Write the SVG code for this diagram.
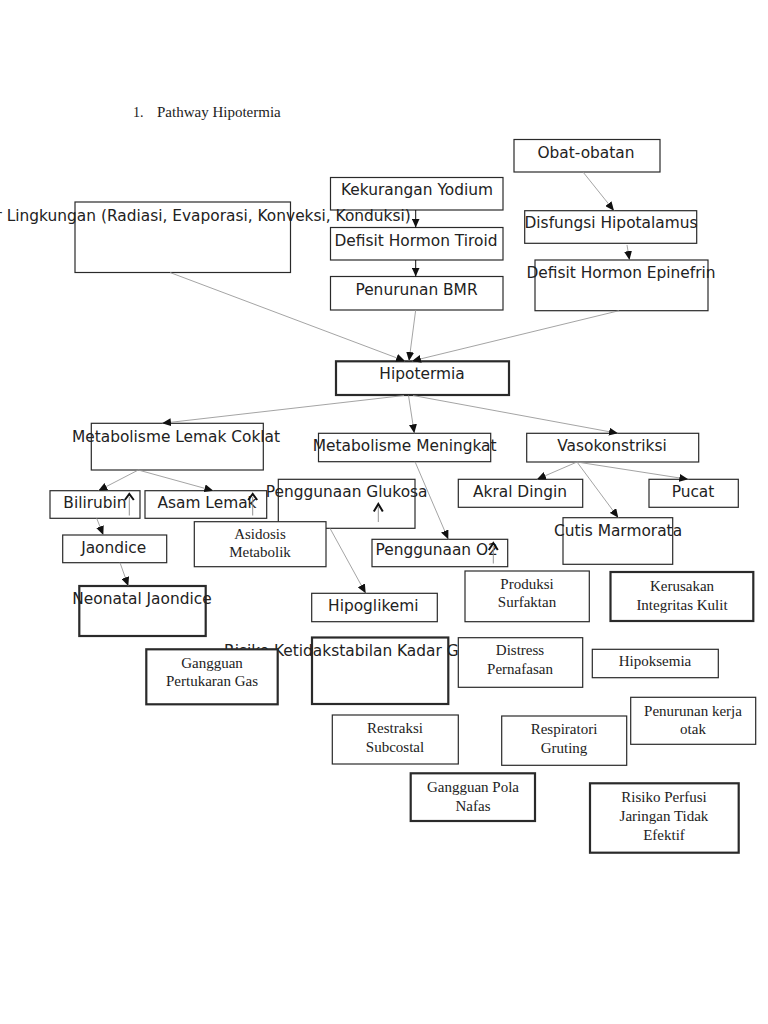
<svg xmlns="http://www.w3.org/2000/svg" width="768" height="1024" viewBox="0 0 768 1024">
<style>
.box{fill:#fff;stroke:#2a2a2a;stroke-width:1.2}
.thick{stroke-width:2.2}
.open{fill:none}
.sans{font-family:"DejaVu Sans",sans-serif;font-size:15.4px;fill:#222;text-anchor:middle}
.serif{font-family:"Liberation Serif","Times New Roman",serif;font-size:15px;fill:#222;text-anchor:middle}
.con{stroke:#9a9a9a;stroke-width:0.9;fill:none}
.conk{stroke:#111;stroke-width:1;fill:none}
.chev{stroke:#111;stroke-width:2;fill:none;stroke-linejoin:miter}
.stem{stroke:#888;stroke-width:0.9}
</style>
<defs>
<marker id="ah" markerUnits="userSpaceOnUse" markerWidth="9" markerHeight="8" refX="9" refY="4" orient="auto">
<path d="M0,0 L9,4 L0,8 z" fill="#111"/>
</marker>
</defs>
<rect width="768" height="1024" fill="#fff"/>

<g id="title">
<text x="133" y="117" style="font-family:'Liberation Serif',serif;font-size:14px;fill:#222">1.</text>
<text x="157" y="117" style="font-family:'Liberation Serif',serif;font-size:15px;fill:#222">Pathway Hipotermia</text>
</g>

<g id="obat"><rect class="box" x="514" y="139.5" width="146" height="32.5"/><text class="sans" x="586" y="157.5">Obat-obatan</text></g>
<g id="kekurangan"><rect class="box" x="330.5" y="177.5" width="172.5" height="32.5"/><text class="sans" x="417" y="195">Kekurangan Yodium</text></g>
<g id="lingkungan"><rect class="box" x="75" y="202" width="215.5" height="70.5"/><text x="-4.5" y="220.5" style="font-family:'DejaVu Sans',sans-serif;font-size:15.4px;fill:#222">r Lingkungan (Radiasi, Evaporasi, Konveksi, Konduksi)</text></g>
<g id="tiroid"><rect class="box" x="330.5" y="227.5" width="172.5" height="32.5"/><text class="sans" x="416" y="245.5">Defisit Hormon Tiroid</text></g>
<g id="bmr"><rect class="box" x="330.5" y="276.5" width="172.5" height="33.5"/><text class="sans" x="416.5" y="294.5">Penurunan BMR</text></g>
<g id="disfungsi"><rect class="box" x="524.7" y="210.7" width="172" height="32.6"/><text class="sans" x="611" y="228">Disfungsi Hipotalamus</text></g>
<g id="epinefrin"><rect class="box open" x="535" y="260" width="173" height="50.7"/><text class="sans" x="621" y="278">Defisit Hormon Epinefrin</text></g>
<g id="hipotermia"><rect class="box thick" x="336" y="361.3" width="173" height="33.7"/><text class="sans" x="422" y="378.5">Hipotermia</text></g>

<g id="lemakcoklat"><rect class="box open" x="91.3" y="423.3" width="172" height="46.7"/><text class="sans" x="176" y="441.8">Metabolisme Lemak Coklat</text></g>
<g id="meningkat"><rect class="box open" x="318.5" y="433.3" width="172.2" height="28.4"/><text class="sans" x="404.7" y="451.3">Metabolisme Meningkat</text></g>
<g id="vaso"><rect class="box" x="526.7" y="433.3" width="172" height="28.7"/><text class="sans" x="612" y="451.3">Vasokonstriksi</text></g>

<g id="glukosa"><rect class="box open" x="278.3" y="479.3" width="136.7" height="49"/><text class="sans" x="346.7" y="497">Penggunaan Glukosa</text></g>
<g id="asidosis"><rect class="box" x="194.3" y="521.7" width="131.7" height="45"/><text class="serif" x="260" y="538.5">Asidosis</text><text class="serif" x="260" y="557">Metabolik</text></g>
<g id="akral"><rect class="box" x="458.3" y="479.3" width="124.4" height="28"/><text class="sans" x="520" y="497">Akral Dingin</text></g>
<g id="pucat"><rect class="box" x="649" y="479.3" width="89.3" height="28"/><text class="sans" x="693" y="497">Pucat</text></g>
<g id="cutis"><rect class="box open" x="563" y="517.7" width="109.7" height="46.6"/><text class="sans" x="618" y="535.8">Cutis Marmorata</text></g>

<g id="bilirubin"><rect class="box" x="50" y="490.7" width="90" height="27.6"/><text class="sans" x="95" y="507.5">Bilirubin</text></g>
<g id="asamlemak"><rect class="box" x="145" y="490.7" width="121.7" height="27.6"/><text class="sans" x="207" y="507.5">Asam Lemak</text></g>
<g id="jaondice"><rect class="box" x="62.7" y="535" width="104" height="27.7"/><text class="sans" x="113.7" y="553">Jaondice</text></g>
<g id="o2"><rect class="box" x="372" y="539.3" width="135.7" height="27.4"/><text class="sans" x="436.7" y="555.3">Penggunaan O2</text></g>
<g id="neonatal"><rect class="box thick open" x="79.3" y="586" width="126.4" height="50"/><text class="sans" x="142" y="603.5">Neonatal Jaondice</text></g>
<g id="hipoglikemi"><rect class="box" x="311.7" y="593.3" width="125.6" height="28.4"/><text class="sans" x="373.3" y="611">Hipoglikemi</text></g>

<g id="produksi"><rect class="box" x="465" y="571" width="124.3" height="50.7"/><text class="serif" x="527" y="588.5">Produksi</text><text class="serif" x="527" y="607">Surfaktan</text></g>
<g id="kerusakan"><rect class="box thick" x="610.5" y="572" width="142.8" height="49"/><text class="serif" x="682" y="590.5">Kerusakan</text><text class="serif" x="682" y="609.5">Integritas Kulit</text></g>

<g id="risikokadar"><rect class="box thick" x="312" y="637.5" width="136.3" height="66.5"/><text x="224" y="656.3" style="font-family:'DejaVu Sans',sans-serif;font-size:15.4px;fill:#222">Risiko Ketidakstabilan Kadar G</text></g>
<g id="pertukarangas"><rect class="box thick" x="146.3" y="649.3" width="131.4" height="55"/><text class="serif" x="212" y="667.5">Gangguan</text><text class="serif" x="212" y="686">Pertukaran Gas</text></g>
<g id="distress"><rect class="box" x="458.3" y="637.7" width="124.4" height="49.6"/><text class="serif" x="520" y="655.3">Distress</text><text class="serif" x="520" y="673.5">Pernafasan</text></g>
<g id="hipoksemia"><rect class="box" x="592.3" y="649.3" width="126" height="28.4"/><text class="serif" x="655" y="665.5">Hipoksemia</text></g>
<g id="kerjaotak"><rect class="box" x="630.7" y="697.3" width="125" height="47"/><text class="serif" x="693" y="715.5">Penurunan kerja</text><text class="serif" x="693" y="733.5">otak</text></g>
<g id="restraksi"><rect class="box" x="332.3" y="715" width="126" height="49"/><text class="serif" x="395" y="733">Restraksi</text><text class="serif" x="395" y="752">Subcostal</text></g>
<g id="respiratori"><rect class="box" x="501.7" y="716" width="125" height="49.3"/><text class="serif" x="564" y="733.5">Respiratori</text><text class="serif" x="564" y="753">Gruting</text></g>
<g id="polanafas"><rect class="box thick" x="410.7" y="773.3" width="124.3" height="47.7"/><text class="serif" x="473" y="792">Gangguan Pola</text><text class="serif" x="473" y="811">Nafas</text></g>
<g id="perfusi"><rect class="box thick" x="590" y="783.3" width="148.7" height="69.4"/><text class="serif" x="664" y="802">Risiko Perfusi</text><text class="serif" x="664" y="821">Jaringan Tidak</text><text class="serif" x="664" y="840">Efektif</text></g>

<g id="connectors">
<line class="con" x1="583" y1="172" x2="614" y2="210.7" marker-end="url(#ah)"/>
<line class="conk" x1="415.7" y1="210" x2="415.7" y2="227.5" marker-end="url(#ah)"/>
<line class="conk" x1="415.7" y1="260" x2="415.7" y2="276.5" marker-end="url(#ah)"/>
<line class="con" x1="627" y1="245" x2="629.5" y2="260" marker-end="url(#ah)"/>
<line class="con" x1="170" y1="272.5" x2="405" y2="361" marker-end="url(#ah)"/>
<line class="con" x1="415.7" y1="310" x2="409" y2="361" marker-end="url(#ah)"/>
<line class="con" x1="619" y1="310.7" x2="412" y2="361" marker-end="url(#ah)"/>
<line class="con" x1="404" y1="395.5" x2="162" y2="423.3" marker-end="url(#ah)"/>
<line class="con" x1="408.5" y1="395.5" x2="414.3" y2="433.3" marker-end="url(#ah)"/>
<line class="con" x1="413" y1="395.5" x2="618" y2="433.3" marker-end="url(#ah)"/>
<line class="con" x1="138.3" y1="470" x2="98.3" y2="490.7" marker-end="url(#ah)"/>
<line class="con" x1="138.3" y1="470" x2="213.3" y2="490.7" marker-end="url(#ah)"/>
<line class="con" x1="96.7" y1="518.3" x2="103.3" y2="535" marker-end="url(#ah)"/>
<line class="con" x1="120" y1="562.7" x2="128.3" y2="586" marker-end="url(#ah)"/>
<line class="con" x1="415" y1="461.7" x2="448.3" y2="539.3" marker-end="url(#ah)"/>
<line class="con" x1="577" y1="462" x2="537" y2="479.3" marker-end="url(#ah)"/>
<line class="con" x1="577" y1="462" x2="688.3" y2="479.3" marker-end="url(#ah)"/>
<line class="con" x1="577" y1="462" x2="618.3" y2="517.7" marker-end="url(#ah)"/>
<line class="con" x1="330" y1="528.3" x2="365.7" y2="593.3" marker-end="url(#ah)"/>
<line class="stem" x1="129.3" y1="497" x2="129.3" y2="515.5"/>
<path class="chev" d="M124.8,500 L129.3,494 L133.8,500"/>
<line class="stem" x1="252.7" y1="497" x2="252.7" y2="515.5"/>
<path class="chev" d="M248.2,500 L252.7,494 L257.2,500"/>
<line class="stem" x1="378.3" y1="507" x2="378.3" y2="522"/>
<path class="chev" d="M373.8,511.5 L378.3,504 L382.8,511.5"/>
<line class="stem" x1="493.3" y1="546" x2="493.3" y2="563.5"/>
<path class="chev" d="M488.8,550 L493.3,543 L497.8,550"/>
</g>
</svg>
